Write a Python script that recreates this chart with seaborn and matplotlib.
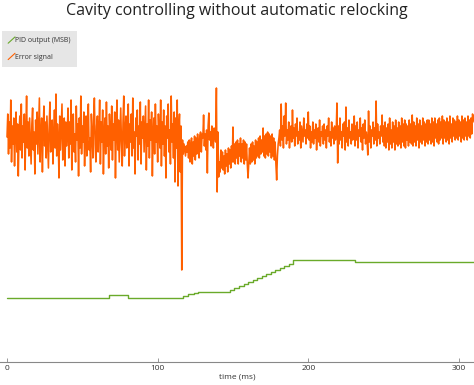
import numpy as np
import pandas as pd
import matplotlib
matplotlib.use("Agg")
import matplotlib.pyplot as plt
from matplotlib.legend_handler import HandlerLine2D
from matplotlib.lines import Line2D
import seaborn as sns

# ---- data ----
# PID output (MSB), stepwise, (time ms, level a.u.)
pid_t = [0, 68, 80, 117, 120, 124, 127, 148, 151, 154, 157, 160, 163, 166, 169,
         172, 175, 178, 181, 184, 187, 190, 231, 310]
pid_v = [64, 67, 64, 66, 68, 69, 70, 72, 74, 76, 78, 80, 82, 84, 86,
         88, 90, 92, 94, 96, 98, 102, 100, 100]

# Error signal, sampled every 0.5 ms from 0 to 310 ms
err_step_ms = 0.5
err_v = [
    225,248,208,240,214,262,200,236,218,244,196,230,250,210,238,186,228,246,212,258,
    204,236,220,248,192,232,266,214,240,206,244,222,198,238,254,212,230,188,242,218,
    250,208,236,264,200,226,244,190,232,256,216,240,204,246,220,194,236,260,210,232,
    242,198,228,252,214,268,206,238,222,184,246,212,234,258,202,226,244,196,240,216,
    230,254,204,240,218,262,192,236,248,210,228,200,256,222,238,186,244,214,266,208,
    236,220,250,196,232,246,206,240,258,212,224,190,248,230,204,242,264,218,200,236,
    246,210,232,262,198,240,220,252,188,228,244,208,260,216,236,194,248,226,212,256,
    202,238,222,250,184,234,262,212,242,200,228,254,218,196,240,266,206,230,246,214,
    232,258,196,238,220,248,206,264,214,230,188,244,226,252,202,236,218,260,198,240,
    224,246,210,234,256,192,238,216,262,204,242,222,250,186,230,244,208,258,220,236,
    200,248,228,214,262,196,240,218,252,206,236,184,246,224,258,210,232,198,266,220,
    238,204,250,180,244,214,262,176,232,248,190,236,92,222,208,218,212,206,216,210,
    220,204,222,200,216,224,198,220,206,226,202,224,208,228,218,204,226,230,210,228,
    224,247,216,228,212,232,189,236,249,222,230,216,236,226,214,234,228,220,274,170,
    230,185,200,190,212,194,210,192,206,188,212,196,208,190,214,198,212,194,216,200,
    235,200,218,198,220,204,222,198,218,206,224,200,218,204,222,198,220,202,218,198,
    184,200,214,198,218,200,220,202,216,198,222,204,220,206,224,204,226,208,222,210,
    234,206,226,204,228,208,230,206,228,210,226,204,228,206,224,202,220,198,182,206,
    218,224,232,216,258,222,236,214,246,226,259,218,232,222,240,214,228,236,220,252,
    224,234,216,238,226,244,218,230,222,240,214,236,228,220,244,226,232,218,238,224,
    250,222,236,214,230,220,240,218,232,224,238,212,228,234,220,242,216,230,226,236,
    218,238,222,232,214,236,226,244,220,230,216,240,224,234,218,236,222,228,259,199,
    236,218,244,222,230,214,238,226,240,212,255,220,234,216,242,224,230,218,238,222,
    228,246,216,236,222,240,214,232,226,244,220,234,212,238,224,242,218,230,222,207,
    251,220,236,214,232,226,240,218,234,222,261,216,238,224,230,218,236,226,247,220,
    236,216,240,214,234,220,238,212,244,218,232,214,240,220,236,212,242,218,234,216,
    240,218,236,214,244,220,238,216,242,214,238,222,236,216,242,220,238,218,247,216,
    240,220,236,216,244,222,238,214,242,220,236,218,244,222,240,216,238,220,242,218,
    242,222,238,218,244,220,240,216,244,224,238,220,242,218,244,222,240,224,246,218,
    242,224,240,220,244,222,240,218,246,224,238,220,244,226,242,222,240,224,246,222,
    242,226,240,220,246,224,242,222,244,226,240,222,246,226,242,224,244,228,248,246,
    240,
]

title = "Cavity controlling without automatic relocking"
xlabel = "time (ms)"
xticks = [0, 100, 200, 300]
labels = ["PID output (MSB)", "Error signal"]

# ---- plotting ----
sns.set_style("white")
plt.rcParams["font.family"] = ["Open Sans", "DejaVu Sans"]

err_t = np.arange(len(err_v)) * err_step_ms
err_df = pd.DataFrame({"t": err_t, "v": err_v})
pid_df = pd.DataFrame({"t": pid_t, "v": pid_v})

fig = plt.figure(figsize=(4.74, 3.85), dpi=100)
ax = fig.add_axes([0.0, 23 / 385, 1.0, 331 / 385])

sns.lineplot(data=pid_df, x="t", y="v", ax=ax, color="#6aaa2a", lw=1.0,
             drawstyle="steps-post", label=labels[0])
sns.lineplot(data=err_df, x="t", y="v", ax=ax, color="#ff6000", lw=1.15,
             label=labels[1])

ax.set_xlim(-4.65, 310)
ax.set_ylim(0, 331)
ax.set_yticks([])
ax.set_ylabel("")
ax.set_xticks(xticks)
ax.set_xticklabels([str(x) for x in xticks])
ax.set_xlabel(xlabel, fontsize=6, color="#333333", labelpad=1)
for s in ["top", "right", "left"]:
    ax.spines[s].set_visible(False)
ax.spines["bottom"].set_color("#888888")
ax.spines["bottom"].set_linewidth(0.8)
ax.tick_params(axis="x", direction="in", length=3, width=0.6, color="#888888",
               labelsize=6, labelcolor="#333333", pad=2, bottom=True)


class DiagHandler(HandlerLine2D):
    def create_artists(self, legend, orig_handle, xdescent, ydescent, width,
                       height, fontsize, trans):
        x0 = -xdescent + 0.0 * width
        x1 = -xdescent + 1.1 * width
        y0 = -ydescent - 0.2 * height
        y1 = -ydescent + 1.1 * height
        ln = Line2D([x0, x1], [y0, y1], color=orig_handle.get_color(),
                    lw=0.8, transform=trans)
        return [ln]


handles, lbls = ax.get_legend_handles_labels()
leg = ax.legend(handles, lbls, loc="upper left", bbox_to_anchor=(0.004, 1.0),
                borderaxespad=0, fontsize=5, frameon=True, fancybox=False,
                handlelength=0.9, handletextpad=0.1, borderpad=0.9,
                labelspacing=1.35,
                handler_map={Line2D: DiagHandler()})
leg.get_frame().set_facecolor("#e6e6e6")
leg.get_frame().set_edgecolor("none")
leg.get_frame().set_alpha(1)
for t in leg.get_texts():
    t.set_color("#333333")

fig.text(0.5, 1 - 11 / 385, title, ha="center", va="center", fontsize=11.5,
         color="#222222")

fig.savefig("out.png", dpi=100)
